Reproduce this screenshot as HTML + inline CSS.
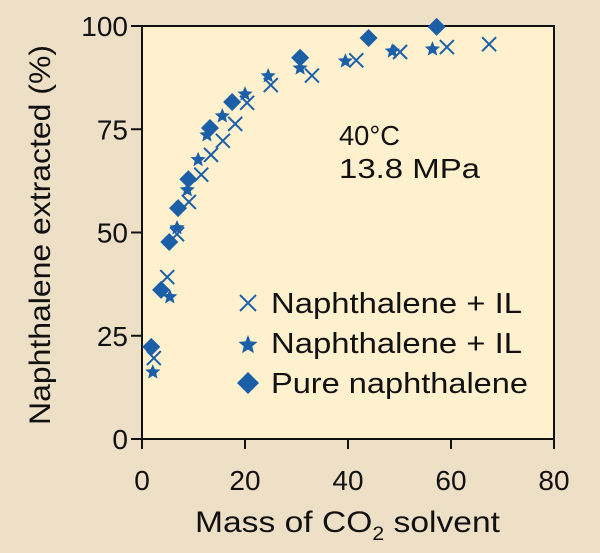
<!DOCTYPE html>
<html><head><meta charset="utf-8"><style>
html,body{margin:0;padding:0;background:#ede0c6;}
svg{display:block;font-family:"Liberation Sans",sans-serif;}
</style></head><body>
<svg id="chart" width="600" height="553" viewBox="0 0 600 553">
<rect x="0" y="0" width="600" height="553" fill="#ede0c6"/>
<rect x="142" y="26" width="412" height="413" fill="#fff0ce" stroke="#111" stroke-width="2"/>
<g id="axes"></g>
<g id="marks"></g>
<text x="339" y="145" font-size="28" fill="#111" textLength="61" lengthAdjust="spacingAndGlyphs">40°C</text>
<text x="339" y="178" font-size="28" fill="#111" textLength="141" lengthAdjust="spacingAndGlyphs">13.8 MPa</text>
<g>
<g>
<path d="M240,295 L256,311 M256,295 L240,311" stroke="#1a5fa8" stroke-width="2" fill="none"/>
<text x="271" y="313" font-size="29" fill="#111" textLength="251" lengthAdjust="spacingAndGlyphs">Naphthalene + IL</text></g>
<g>
<polygon id="legstar" fill="#1a5fa8" points=""/>
<text x="271" y="353" font-size="29" fill="#111" textLength="251" lengthAdjust="spacingAndGlyphs">Naphthalene + IL</text></g>
<g>
<polygon points="248,372 259,383 248,394 237,383" fill="#1a5fa8"/>
<text x="271" y="393" font-size="29" fill="#111" textLength="257" lengthAdjust="spacingAndGlyphs">Pure naphthalene</text></g>
</g>
<text x="195" y="532" font-size="30" fill="#111" textLength="305" lengthAdjust="spacingAndGlyphs">Mass of CO<tspan font-size="19" dy="8">2</tspan><tspan dy="-8"> solvent</tspan></text>
<text transform="translate(50,235) rotate(-90)" font-size="30" fill="#111" text-anchor="middle" textLength="380" lengthAdjust="spacingAndGlyphs">Naphthalene extracted (%)</text>
</svg>
<script>
const xTicks=[0,20,40,60,80];
const yTicks=[0,25,50,75,100];
const crossX=[2.3,4.9,6.8,9.1,11.5,13.4,15.7,18.1,20.4,25,33,41.6,50.1,59.2,67.4];
const crossY=[19.6,39.2,49.6,57.4,64,68.8,72.2,76.3,81.4,85.7,88,91.7,93.7,94.9,95.6];
const starX=[2.1,5.4,6.8,8.8,10.9,12.6,15.6,20,24.5,30.7,39.5,48.6,56.4];
const starY=[16.2,34.4,51.1,60.3,67.6,73.6,78.2,83.5,87.9,89.8,91.5,93.9,94.4];
const diamondX=[1.8,3.7,5.3,7,9,13.2,17.5,30.7,44,57.2];
const diamondY=[22.3,36.1,47.7,55.9,62.9,75.3,81.6,92.3,97.1,99.8];
const NS="http://www.w3.org/2000/svg";
const X0=142,X1=554,Y0=439,Y1=26;
function sx(v){return X0+(v-0)/80*(X1-X0);}
function sy(v){return Y0-(v-0)/100*(Y0-Y1);}
const axes=document.getElementById('axes');
const marks=document.getElementById('marks');
function mk(tag,attrs,parent){const e=document.createElementNS(NS,tag);for(const k in attrs)e.setAttribute(k,attrs[k]);parent.appendChild(e);return e;}
xTicks.forEach(t=>{
  const l=mk('line',{x1:sx(t),x2:sx(t),y1:Y0,y2:Y0+10,stroke:'#111','stroke-width':2},axes);
  
  
  const tx=mk('text',{x:sx(t),y:490,'font-size':28,fill:'#111','text-anchor':'middle'},axes);
  tx.textContent=t;
  
  
});
yTicks.forEach(t=>{
  const l=mk('line',{x1:X0-11,x2:X0,y1:sy(t),y2:sy(t),stroke:'#111','stroke-width':2},axes);
  
  
  const tx=mk('text',{x:X0-14,y:sy(t)+10,'font-size':28,fill:'#111','text-anchor':'end'},axes);
  tx.textContent=t;
  
  
});
function starPts(cx,cy,R,r){let p=[];for(let i=0;i<10;i++){const a=-Math.PI/2+i*Math.PI/5;const rr=i%2?r:R;p.push((cx+rr*Math.cos(a)).toFixed(1)+','+(cy+rr*Math.sin(a)).toFixed(1));}return p.join(' ');}
document.getElementById('legstar').setAttribute('points',starPts(248,345,10,4.5));
const C='#1a5fa8';
crossX.forEach((v,i)=>{
  const x=sx(v),y=sy(crossY[i]);
  const p=mk('path',{d:`M${x-7},${y-7} L${x+7},${y+7} M${x+7},${y-7} L${x-7},${y+7}`,stroke:C,'stroke-width':2,fill:'none'},marks);
  
  
});
starX.forEach((v,i)=>{
  const p=mk('polygon',{points:starPts(sx(v),sy(starY[i]),8,3.6),fill:C},marks);
  
  
});
diamondX.forEach((v,i)=>{
  const x=sx(v),y=sy(diamondY[i]);
  const p=mk('polygon',{points:`${x},${y-9} ${x+9},${y} ${x},${y+9} ${x-9},${y}`,fill:C},marks);
  
  
});
</script>
</body></html>
